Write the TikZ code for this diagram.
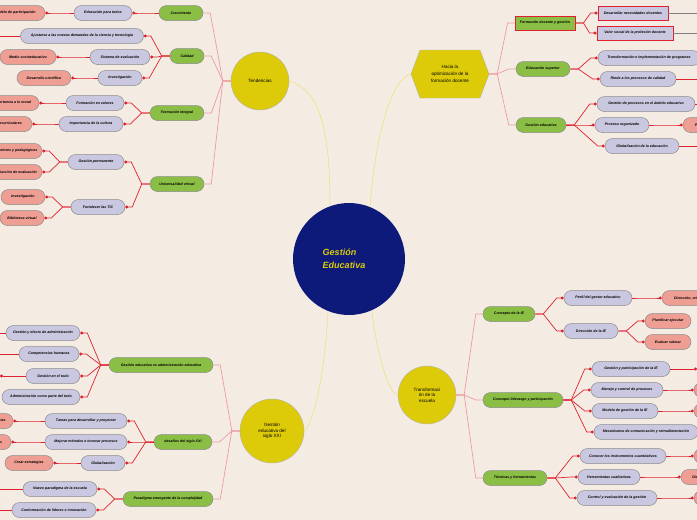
\documentclass[tikz,border=0pt]{standalone}
\usepackage{fontspec}
\setmainfont{Liberation Sans}
\usetikzlibrary{shapes.misc,shapes.geometric,arrows.meta,calc}
\definecolor{bg}{HTML}{F4ECE3}
\definecolor{gr}{HTML}{8BBE45}
\definecolor{lv}{HTML}{C9C8E0}
\definecolor{pk}{HTML}{EF9E94}
\definecolor{yl}{HTML}{DDCB0A}
\definecolor{nv}{HTML}{0D1A7A}
\definecolor{rd}{HTML}{E0202E}
\definecolor{lp}{HTML}{EE9AA0}
\tikzset{
 base/.style={rounded rectangle,draw=black!45,line width=0.5pt,minimum height=15pt,inner sep=1pt,font=\fontsize{3.6}{4.2}\selectfont\itshape\bfseries},
 gn/.style={base,fill=gr},
 lvn/.style={base,fill=lv},
 pkn/.style={base,fill=pk},
 topic/.style={circle,draw=black!30,fill=yl,align=center,font=\fontsize{4.6}{5.6}\selectfont},
 con/.style={draw=rd,line width=0.7pt,-{Circle[length=3pt]}},
 lcon/.style={draw=lp,line width=0.7pt},
 ycon/.style={draw=yl!60,line width=0.5pt},
}
\newcommand{\conR}[3][con]{\draw[#1] (#2.east) -- ++(8,0) -- ($(#3.west)+(-7,0)$) -- (#3.west);}
\newcommand{\conL}[3][con]{\draw[#1] (#2.west) -- ++(-8,0) -- ($(#3.east)+(7,0)$) -- (#3.east);}
\begin{document}
\begin{tikzpicture}[x=1pt,y=-1pt]
\fill[bg] (0,0) rectangle (697,520);
\useasboundingbox (0,0) rectangle (697,520);
% center
\node[circle,fill=nv,minimum size=112pt] (c) at (349,259) {};
\node[font=\fontsize{9}{13}\selectfont\itshape\bfseries,text=yl,align=left] at (344,259) {Gestión\\Educativa};
% topics
\node[topic,minimum size=58pt] (t1) at (260,81) {Tendencias};
\fill[yl,draw=black!30] (411,74) -- (420,50) -- (480,50) -- (489,74) -- (480,98) -- (420,98) -- cycle;
\node[font=\fontsize{4.6}{7}\selectfont,align=center,minimum width=78pt,minimum height=48pt,inner sep=0pt] (t2) at (450,74) {Hacia la\\optimización de la\\formación docente};
\node[topic,minimum size=58pt] (t3) at (427,395) {Transformaci\\ón de la\\escuela};
\node[topic,minimum size=64pt] (t4) at (272,431) {Gestión\\educativa del\\siglo XXI};
\draw[ycon] (330,205) .. controls (330,130) and (320,90) .. (t1.east);
\draw[ycon] (370,207) .. controls (375,140) and (390,80) .. (t2.west);
\draw[ycon] (372,313) .. controls (378,360) and (390,395) .. (t3.west);
\draw[ycon] (328,312) .. controls (325,370) and (315,420) .. (t4.east);
% Tendencias
\node[gn,minimum width=46pt] (a1) at (181,13) {Crecimiento};
\node[gn,minimum width=36pt] (a2) at (187,56) {Calidad};
\node[gn,minimum width=56pt] (a3) at (177,113) {Formación integral};
\node[gn,minimum width=56pt] (a4) at (177,184) {Universalidad virtual};
\foreach \n in {a1,a2,a3,a4}{\conL[lcon]{t1}{\n}}
\node[lvn,minimum width=60pt] (a11) at (103,13) {Educación para todos};
\node[pkn,minimum width=62pt] (a111) at (15,13) {Modelo de participación};
\conL{a1}{a11}\conL{a11}{a111}
\node[lvn,minimum width=125pt] (a21) at (82,36) {Ajustarse a las nuevas demandas de la ciencia y tecnología};
\node[lvn,minimum width=62pt] (a22) at (120,57) {Sistema de evaluación};
\node[lvn,minimum width=46pt] (a23) at (120,78) {Investigación};
\node[pkn,minimum width=58pt] (a221) at (28,57) {Medio socioeducativo};
\node[pkn,minimum width=56pt] (a231) at (44,78) {Desarrollo científico};
\conL{a2}{a21}\conL{a2}{a22}\conL{a2}{a23}\conL{a22}{a221}\conL{a23}{a231}
\draw[con,-] (a21.west) -- (0,36);
\node[lvn,minimum width=60pt] (a31) at (95,103) {Formación en valores};
\node[lvn,minimum width=66pt] (a32) at (91,124) {Importancia de la cultura};
\node[pkn,minimum width=56pt] (a311) at (12,103) {Importancia a lo moral};
\node[pkn,minimum width=50pt] (a321) at (8,124) {y cocurriculares};
\conL{a3}{a31}\conL{a3}{a32}\conL{a31}{a311}\conL{a32}{a321}
\node[lvn,minimum width=58pt] (a41) at (96,162) {Gestión permanente};
\node[lvn,minimum width=56pt] (a42) at (98,207) {Fortalecer las TIC};
\node[pkn,minimum width=50pt] (a411) at (18,151) {valores y pedagógicos};
\node[pkn,minimum width=50pt] (a412) at (18,172) {función de evaluación};
\node[pkn,minimum width=46pt] (a421) at (23,197) {Investigación};
\node[pkn,minimum width=46pt] (a422) at (22,218) {Biblioteca virtual};
\conL{a4}{a41}\conL{a4}{a42}\conL{a41}{a411}\conL{a41}{a412}\conL{a42}{a421}\conL{a42}{a422}
% Hacia
\node[base,rectangle,rounded corners=0,draw=rd,line width=0.8pt,fill=gr,minimum width=60pt,minimum height=14pt] (b1) at (545,23) {Formación docente y gestión};
\node[gn,minimum width=56pt] (b2) at (543,69) {Educación superior};
\node[gn,minimum width=52pt] (b3) at (541,125) {Gestión educativa};
\foreach \n in {b1,b2,b3}{\conR[lcon]{t2}{\n}}
\node[base,rectangle,rounded corners=0,draw=rd,line width=0.8pt,fill=lv,minimum width=70pt,minimum height=14pt] (b11) at (633,13) {Desarrollar necesidades docentes};
\node[base,rectangle,rounded corners=0,draw=rd,line width=0.8pt,fill=lv,minimum width=76pt,minimum height=14pt] (b12) at (635,33) {Valor social de la profesión docente};
\conR{b1}{b11}\conR{b1}{b12}
\draw[gray,line width=0.7pt] (b11.east) -- (697,13); \draw[gray,line width=0.7pt] (b12.east) -- (697,33);
\node[lvn,minimum width=104pt] (b21) at (649,58) {Transformación e implementación de programas};
\node[lvn,minimum width=78pt] (b22) at (638,79) {Rinde a los procesos de calidad};
\conR{b2}{b21}\conR{b2}{b22}\draw[con,-] (b22.east) -- (697,79);
\node[lvn,minimum width=100pt] (b31) at (646,104) {Gestión de procesos en el ámbito educativo};
\node[lvn,minimum width=56pt] (b32) at (622,125) {Proceso organizado};
\node[lvn,minimum width=76pt] (b33) at (642,146) {Globalización de la educación};
\node[pkn,minimum width=40pt] (b321) at (702,125) {Proceso};
\conR{b3}{b31}\conR{b3}{b32}\conR{b3}{b33}\conR{b32}{b321}
\draw[con,-] (b31.east) -- (697,104); \draw[con,-] (b33.east) -- (697,146);
% Transformacion
\node[gn,minimum width=54pt] (d1) at (509,314) {Concepto de la IE};
\node[gn,minimum width=82pt] (d2) at (523,400) {Concepto liderazgo y participación};
\node[gn,minimum width=66pt] (d3) at (515,478) {Técnicas y herramientas};
\foreach \n in {d1,d2,d3}{\conR[lcon]{t3}{\n}}
\node[lvn,minimum width=70pt] (d11) at (598,298) {Perfil del gestor educativo};
\node[lvn,minimum width=56pt] (d12) at (591,331) {Dirección de la IE};
\node[pkn,minimum width=64pt] (d111) at (693,298) {Dirección, orientación};
\node[pkn,minimum width=48pt] (d121) at (668,321) {Planificar ejecutar};
\node[pkn,minimum width=48pt] (d122) at (668,342) {Evaluar valorar};
\conR{d1}{d11}\conR{d1}{d12}\conR{d11}{d111}\conR{d12}{d121}\conR{d12}{d122}
\node[lvn,minimum width=80pt] (d21) at (631,369) {Gestión y participación de la IE};
\node[lvn,minimum width=74pt] (d22) at (627,390) {Manejo y control de procesos};
\node[lvn,minimum width=68pt] (d23) at (625,411) {Modelo de gestión de la IE};
\node[lvn,minimum width=106pt] (d24) at (646,432) {Mecanismos de comunicación y retroalimentación};
\foreach \n in {d21,d22,d23,d24}{\conR{d2}{\n}}
\node[pkn,minimum width=30pt] (d221) at (708,390) {};
\node[pkn,minimum width=30pt] (d231) at (708,411) {};
\conR{d22}{d221}\conR{d23}{d231}\draw[con] (d21.east) -- (697,369);
\node[lvn,minimum width=88pt] (d31) at (623,456) {Conocer los instrumentos cuantitativos};
\node[lvn,minimum width=64pt] (d32) at (609,477) {Herramientas cualitativas};
\node[lvn,minimum width=82pt] (d33) at (617,498) {Control y evaluación de la gestión};
\foreach \n in {d31,d32,d33}{\conR{d3}{\n}}
\node[pkn,minimum width=30pt] (d311) at (708,456) {};
\node[pkn,minimum width=40pt] (d321) at (700,477) {Diario de};
\node[pkn,minimum width=30pt] (d331) at (708,498) {};
\conR{d31}{d311}\conR{d32}{d321}\conR{d33}{d331}
% Siglo XXI
\node[gn,minimum width=106pt] (e1) at (161,365) {Gestión educativa vs administración educativa};
\node[gn,minimum width=60pt] (e2) at (183,442) {desafíos del siglo XXI};
\node[gn,minimum width=92pt] (e3) at (168,499) {Paradigma emergente de la complejidad};
\foreach \n in {e1,e2,e3}{\conL[lcon]{t4}{\n}}
\node[lvn,minimum width=76pt] (e11) at (43,333) {Gestión y efecto de administración};
\node[lvn,minimum width=62pt] (e12) at (49,354) {Competencias humanas};
\node[lvn,minimum width=56pt] (e13) at (53,376) {Gestión en el todo};
\node[lvn,minimum width=80pt] (e14) at (41,397) {Administración como parte del todo};
\foreach \n in {e11,e12,e13,e14}{\conL{e1}{\n}}
\draw[con,-] (e11.west) -- (0,333); \draw[con,-] (e12.west) -- (0,354);
\draw[con] (e13.west) -- (0,376);
\node[lvn,minimum width=84pt] (e21) at (86,421) {Tareas para desarrollar y proyectar};
\node[lvn,minimum width=84pt] (e22) at (86,442) {Mejorar métodos e innovar procesos};
\node[lvn,minimum width=46pt] (e23) at (103,463) {Globalización};
\node[pkn,minimum width=36pt] (e211) at (-4,421) {Estrategias};
\node[pkn,minimum width=36pt] (e221) at (-6,442) {Procesos};
\node[pkn,minimum width=50pt] (e231) at (29,463) {Crear estrategias};
\foreach \n in {e21,e22,e23}{\conL{e2}{\n}}
\conL{e21}{e211}\conL{e22}{e221}\conL{e23}{e231}
\node[lvn,minimum width=76pt] (e31) at (60,489) {Nuevo paradigma de la escuela};
\node[lvn,minimum width=86pt] (e32) at (54,510) {Conformación de líderes e innovación};
\conL{e3}{e31}\conL{e3}{e32}
\draw[con,-] (e31.west) -- (0,489); \draw[con,-] (e32.west) -- (0,510);
\end{tikzpicture}
\end{document}
